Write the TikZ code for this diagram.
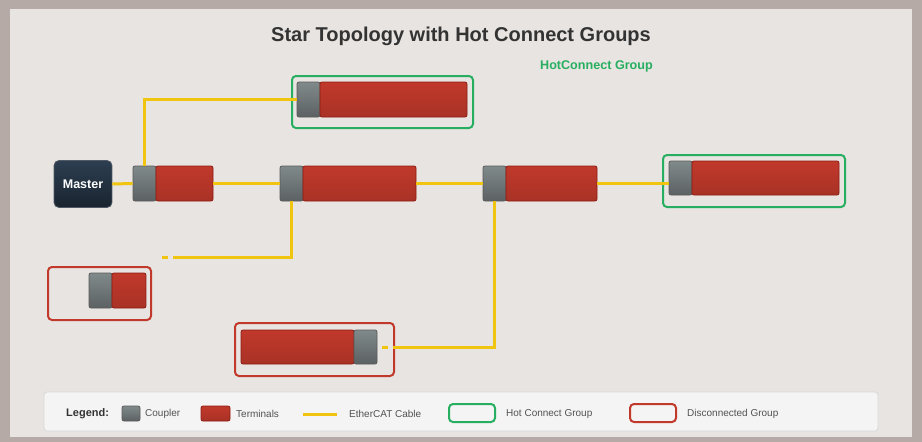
\documentclass[tikz,border=0pt]{standalone}
\usepackage{fontspec}
\setmainfont{Liberation Sans}
\definecolor{frameC}{HTML}{B5AAA5}
\definecolor{bgC}{HTML}{E8E4E1}
\definecolor{cableC}{HTML}{F1C40F}
\definecolor{greenC}{HTML}{27AE60}
\definecolor{redC}{HTML}{C0392B}
\definecolor{redTop}{HTML}{C0392B}
\definecolor{redBot}{HTML}{A93226}
\definecolor{redEdge}{HTML}{8E1B12}
\definecolor{grayTop}{HTML}{808A8B}
\definecolor{grayBot}{HTML}{5C6162}
\definecolor{grayEdge}{HTML}{5A5A5A}
\definecolor{navyTop}{HTML}{2C3E50}
\definecolor{navyBot}{HTML}{1A2430}
\definecolor{navyEdge}{HTML}{4F5A66}
\definecolor{textC}{HTML}{333333}
\definecolor{legC}{HTML}{F4F4F4}
\definecolor{legEdge}{HTML}{D8D8D8}
\tikzset{
  coupler/.style={draw=grayEdge, line width=0.8pt, top color=grayTop, bottom color=grayBot, rounded corners=2pt, inner sep=0pt},
  terminal/.style={draw=redEdge, line width=0.8pt, top color=redTop, bottom color=redBot, rounded corners=2pt, inner sep=0pt},
  hotgroup/.style={draw=greenC, line width=2pt, rounded corners=4pt, inner sep=0pt},
  discgroup/.style={draw=redC, line width=2pt, rounded corners=4pt, inner sep=0pt},
  cable/.style={draw=cableC, line width=3pt},
  legtext/.style={font=\fontsize{10}{12}\selectfont, text=textC!85!white, anchor=west, inner sep=0pt},
}
\newcommand\bx[6]{%
  \pgfmathsetmacro\cx{(#3+#5)/2}\pgfmathsetmacro\cy{(#4+#6)/2}%
  \pgfmathsetmacro\ww{#5-#3}\pgfmathsetmacro\hh{#6-#4}%
  \node[#1, minimum width=\ww pt, minimum height=\hh pt] (#2) at (\cx,\cy) {};}
\begin{document}
\begin{tikzpicture}[x=1pt,y=-1pt]
\useasboundingbox (0,0) rectangle (922,442);
\fill[frameC] (0,0) rectangle (922,442);
\fill[bgC] (10,9) rectangle (912,437);
% title
\node[font=\bfseries\fontsize{20}{24}\selectfont, text=textC] (title) at (461,36) {Star Topology with Hot Connect Groups};
\node[font=\bfseries\fontsize{12.6}{15}\selectfont, text=greenC] (hclabel) at (596.5,66) {HotConnect Group};
% groups
\bx{hotgroup}{g1}{292}{76}{473}{128}
\bx{hotgroup}{g2}{663}{155}{845}{207}
\bx{discgroup}{g3}{48}{267}{151}{320}
\bx{discgroup}{g4}{235}{323}{394}{376}
% master
\node[draw=navyEdge, line width=0.8pt, top color=navyTop, bottom color=navyBot, rounded corners=5pt,
  minimum width=58pt, minimum height=47pt, text=white, font=\bfseries\fontsize{12.5}{14}\selectfont] (master) at (83,184) {Master};
% couplers and terminals
\bx{coupler}{c1}{133}{166}{156}{201}
\bx{terminal}{t1}{156}{166}{213}{201}
\bx{coupler}{c2}{280}{166}{303}{201}
\bx{terminal}{t2}{303}{166}{416}{201}
\bx{coupler}{c3}{483}{166}{506}{201}
\bx{terminal}{t3}{506}{166}{597}{201}
\bx{coupler}{c4}{669}{161}{692}{195}
\bx{terminal}{t4}{692}{161}{839}{195}
\bx{coupler}{c5}{297}{82}{320}{117}
\bx{terminal}{t5}{320}{82}{467}{117}
\bx{coupler}{c6}{89}{273}{112}{308}
\bx{terminal}{t6}{112}{273}{146}{308}
\bx{terminal}{t7}{241}{330}{354}{364}
\bx{coupler}{c7}{354}{330}{377}{364}
% cables
\coordinate (e1) at (173,257);
\coordinate (s1a) at (162,257);
\coordinate (s1b) at (168,257);
\coordinate (e2) at (393,347);
\coordinate (s2a) at (382,347);
\coordinate (s2b) at (388,347);
\draw[cable] (master.east) -- (c1.west);
\draw[cable] (t1.east) -- (c2.west);
\draw[cable] (t2.east) -- (c3.west);
\draw[cable] (t3.east) -- (c4.west |- t3.east);
\draw[cable] (c1.north) |- (c5.west);
\draw[cable] (c2.south) |- (e1);
\draw[cable] (s1a) -- (s1b);
\draw[cable] (c3.south) |- (e2);
\draw[cable] (s2a) -- (s2b);
% legend
\node[draw=legEdge, fill=legC, line width=0.8pt, rounded corners=3pt, minimum width=834pt, minimum height=39pt] (legend) at (461,411.5) {};
\node[font=\bfseries\fontsize{11}{13}\selectfont, text=textC, anchor=west, inner sep=0pt] (legtitle) at (66,414) {Legend:};
\bx{coupler}{lc}{122}{406}{140}{421}
\node[legtext] (lct) at (145,414) {Coupler};
\bx{terminal}{lt}{201}{406}{230}{421}
\node[legtext] (ltt) at (236,414) {Terminals};
\coordinate (la) at (303,414);
\coordinate (lb) at (337,414);
\draw[cable] (la) -- (lb);
\node[legtext] (lcab) at (349,414) {EtherCAT Cable};
\bx{hotgroup}{lg}{449}{404}{495}{422}
\node[legtext] (lgt) at (506,414) {Hot Connect Group};
\bx{discgroup}{lr}{630}{404}{676}{422}
\node[legtext] (lrt) at (687,414) {Disconnected Group};
\end{tikzpicture}
\end{document}
